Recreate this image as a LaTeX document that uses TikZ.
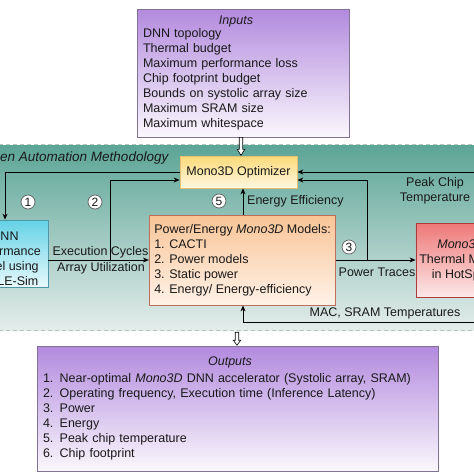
\documentclass[tikz,border=0pt]{standalone}
\usepackage{fontspec}
\setmainfont{Liberation Sans}
\usetikzlibrary{arrows.meta,calc}
\definecolor{ioTop}{RGB}{178,138,222}
\definecolor{ioBot}{RGB}{250,247,252}
\definecolor{ioBorder}{RGB}{130,115,150}
\definecolor{panelTop}{RGB}{92,165,150}
\definecolor{panelBot}{RGB}{228,237,235}
\definecolor{panelDash}{RGB}{175,200,185}
\definecolor{optTop}{RGB}{250,218,120}
\definecolor{optBot}{RGB}{255,248,225}
\definecolor{optBorder}{RGB}{230,190,110}
\definecolor{pwTop}{RGB}{248,196,150}
\definecolor{pwBot}{RGB}{255,242,232}
\definecolor{pwBorder}{RGB}{190,110,90}
\definecolor{thTop}{RGB}{238,120,120}
\definecolor{thBot}{RGB}{253,232,232}
\definecolor{thBorder}{RGB}{170,60,60}
\definecolor{dnnTop}{RGB}{100,210,230}
\definecolor{dnnBot}{RGB}{232,249,252}
\definecolor{dnnBorder}{RGB}{80,150,170}
\definecolor{txt}{RGB}{25,25,25}
\begin{document}
\begin{tikzpicture}[x=1pt,y=-1pt,
  font=\fontsize{12.5}{15}\selectfont, text=txt,
  iobox/.style={draw=ioBorder, line width=0.8pt, top color=ioTop, bottom color=ioBot, align=left, inner xsep=6pt, inner ysep=3pt},
  panelbox/.style={top color=panelTop, bottom color=panelBot, inner sep=0pt},
  paneldash/.style={draw=panelDash, line width=1pt, dash pattern=on 4pt off 3pt},
  optbox/.style={draw=optBorder, line width=0.8pt, top color=optTop, bottom color=optBot},
  pwbox/.style={draw=pwBorder, line width=0.8pt, top color=pwTop, bottom color=pwBot, align=left, inner xsep=5pt, inner ysep=3pt},
  thbox/.style={draw=thBorder, line width=0.8pt, top color=thTop, bottom color=thBot, align=center},
  dnnbox/.style={draw=dnnBorder, line width=0.8pt, top color=dnnTop, bottom color=dnnBot},
  num/.style={circle, draw=gray!75!black, line width=0.7pt, fill=white, inner sep=0pt, minimum size=14pt, font=\fontsize{12}{12}\selectfont},
  lbl/.style={inner sep=0pt},
  conn/.style={draw=black, line width=0.9pt, -{Stealth[length=6pt,width=5pt]}},
  hollow/.style={draw=black, line width=0.6pt, fill=white}
]
\useasboundingbox (0,0) rectangle (474,474);

% panel
\node[panelbox, minimum width=490pt, minimum height=185pt] (panel) at (237,237.5) {};
\draw[paneldash] (panel.north west) -- (panel.north east);
\draw[paneldash] (panel.south west) -- (panel.south east);
\node[lbl, anchor=west, font=\fontsize{13.5}{16}\selectfont\itshape] (ptitle) at (0,158) {en Automation Methodology};

% inputs
\node[iobox, minimum width=212pt, minimum height=128pt, text width=200pt] (inputs) at (243,73)
 {\makebox[\linewidth]{\itshape Inputs\hspace*{14pt}}\\[-2pt]
  DNN topology\\
  Thermal budget\\
  Maximum performance loss\\
  Chip footprint budget\\
  Bounds on systolic array size\\
  Maximum SRAM size\\
  Maximum whitespace};

% optimizer
\node[optbox, minimum width=117pt, minimum height=32pt] (opt) at (238.5,172) {Mono3D Optimizer};

% dnn performance model (partly outside, as in the reference)
\node[dnnbox, minimum width=86pt, minimum height=67pt] (dnn) at (5,253.5) {};
\node[lbl, align=center] (dnntext) at (5,258.5) {DNN\\Performance\\Model using\\SCALE-Sim};

% power/energy models
\node[pwbox, minimum width=185pt, minimum height=90pt] (power) at (242.5,260)
 {Power/Energy \textit{Mono3D} Models:\\
  1. CACTI\\
  2. Power models\\
  3. Static power\\
  4. Energy/ Energy-efficiency};

% thermal model (partly outside, as in the reference)
\node[thbox, minimum width=88pt, minimum height=74pt] (thermal) at (461,260)
 {\textit{Mono3D}\\Thermal Model\\in HotSpot};

% outputs
\node[iobox, minimum width=401pt, minimum height=125pt, text width=389pt] (outputs) at (237.5,408.5)
 {\makebox[\linewidth]{\itshape Outputs\hspace*{15pt}}\\[2pt]
  1. Near-optimal \textit{Mono3D} DNN accelerator (Systolic array, SRAM)\\
  2. Operating frequency, Execution time (Inference Latency)\\
  3. Power\\
  4. Energy\\
  5. Peak chip temperature\\
  6. Chip footprint};

% labels
\node[lbl] (execlbl) at (100.5,252) {Execution Cycles};
\node[lbl] (arrlbl) at (101,268) {Array Utilization};
\node[lbl, anchor=west] (eelbl) at (247,201) {Energy Efficiency};
\node[lbl] (ptlbl) at (377,272) {Power Traces};
\node[lbl, align=center] (peaklbl) at (435,191) {Peak Chip\\Temperature};
\node[lbl] (maclbl) at (385,313) {MAC, SRAM Temperatures};

% numbered circles
\node[num] (c1) at (28,202) {1};
\node[num] (c2) at (95,202) {2};
\node[num] (c5) at (219,201) {5};
\node[num] (c3) at (349,247) {3};

% helper coordinates
\coordinate (j1) at (110,260);
\coordinate (j3) at (367,260);
\coordinate (eex) at (243,0);
\coordinate (peakin) at (480,172);
\coordinate (macin) at (480,322);
\coordinate (ha) at (241,0);
\coordinate (hb) at (237,0);

% connectors
\draw[conn] (opt.west) -| (dnn.north);
\draw[conn] (dnn.east |- power.west) -- (power.west);
\draw[conn] (j1) |- ([yshift=-8pt]opt.west);
\draw[conn] (power.north -| eex) -- (opt.south -| eex);
\draw[conn] (power.east) -- (thermal.west);
\draw[conn] (j3) |- ([yshift=-8pt]opt.east);
\draw[conn] (peakin) -- (opt.east);
\draw[conn] (macin) -| (power.south -| eex);

% hollow arrows
\draw[hollow] (inputs.south -| ha) ++(-1.75,0) -- ++(0,12) -- ++(-2,0) -- ++(3.75,6) -- ++(3.75,-6) -- ++(-2,0) -- ++(0,-12) -- cycle;
\draw[hollow] (panel.south -| hb) ++(-1.75,2) -- ++(0,8) -- ++(-2,0) -- ++(3.75,5) -- ++(3.75,-5) -- ++(-2,0) -- ++(0,-8) -- cycle;
\end{tikzpicture}
\end{document}
